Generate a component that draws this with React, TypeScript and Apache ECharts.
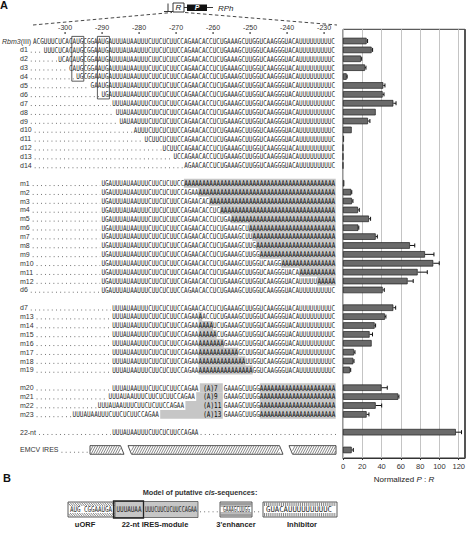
import { useEffect, useRef } from "react";
import * as echarts from "echarts";

// rows of panel A, top to bottom ("_" = spacer row)
const rowLabels = [
  "Rbm3(III)", "d1", "d2", "d3", "d4", "d5", "d6", "d7", "d8", "d9", "d10", "d11", "d12", "d13", "d14",
  "_1",
  "m1", "m2", "m3", "m4", "m5", "m6", "m7", "m8", "m9", "m10", "m11", "m12", "d6",
  "_2",
  "d7", "m13", "m14", "m15", "m16", "m17", "m18", "m19",
  "_3",
  "m20", "m21", "m22", "m23",
  "_4",
  "22-nt",
  "_5",
  "EMCV IRES",
];

// normalized P : R
const ratio = [
  24.5, 29.7, 18.7, 22.8, 3.8, 41.8, 41.1, 52.2, 33.9, 25.9, 9.0, 1.0, 0, 0, 0,
  null,
  1.4, 8.6, 9.3, 15.5, 26.9, 15.9, 33.9, 69.4, 85.0, 93.6, 77.4, 67.0, 41.1,
  null,
  52.2, 43.5, 32.8, 27.6, 29.7, 11.4, 10.7, 7.3,
  null,
  40.0, 57.3, 33.9, 24.5,
  null,
  117.0,
  null,
  9.0,
];
const ratioErr = [
  1.0, 1.0, 0.7, 1.0, 0.5, 1.7, 1.4, 2.8, 0, 2.0, 0, 0, 0, 0, 0,
  null,
  0, 0.5, 1.0, 1.4, 1.7, 0.5, 1.7, 5.0, 9.3, 6.2, 10.0, 5.8, 1.7,
  null,
  2.4, 1.0, 1.0, 3.0, 0, 1.0, 0.7, 0.7,
  null,
  5.9, 0.7, 6.2, 2.4,
  null,
  5.9,
  null,
  1.7,
];
const xTicks = [0, 20, 40, 60, 80, 100, 120];

// sequence alignment
const wt = "ACGUUUCUCACAUGCGGAAUGAUUUAUAAUUUCUUCUCUUCCAGAACACCUCUGAAAGCUUGGUCAAGGGUACAUUUUUUUUUC";
const dRows = ["Rbm3(III)", "d1", "d2", "d3", "d4", "d5", "d6", "d7", "d8", "d9", "d10", "d11", "d12", "d13", "d14"];
const dStart = [0, 3, 7, 10, 12, 16, 19, 22, 23, 24, 28, 31, 36, 39, 42];
const mRows = ["m1", "m2", "m3", "m4", "m5", "m6", "m7", "m8", "m9", "m10", "m11", "m12"];
const mFrom = [42, 46, 49, 52, 55, 60, 61, 62, 63, 69, 74, 79];
const bRows = ["m13", "m14", "m15", "m16", "m17", "m18", "m19"];
const bTo = [46, 49, 50, 52, 56, 58, 60];
const tRows = ["m20", "m21", "m22", "m23"];
const tLen = [7, 9, 11, 13];
const tLead = [22, 21, 18, 11];
const ruler = [-300, -290, -280, -270, -260, -250, -240, -230];

const MONO = "DejaVu Sans Mono";
const SANS = "Liberation Sans";
const FS = 8;
const ADV = FS * 0.602;
const X0 = 33;
const CW = 3.6;
const INK = "#1c1c1c";
const LABEL = "#333";
const SHADE = "#c6c6c6";
const X_MAX = 126.5;
const colX = (c: number) => X0 + c * CW;

const txt = (x: number, y: number, text: string, o: any = {}) => ({
  type: "text", x, y, silent: true, scaleX: o.scaleX ?? 1,
  style: {
    text, fontFamily: o.font ?? SANS, fontSize: o.size ?? 7, fill: o.fill ?? LABEL,
    fontWeight: o.weight ?? "normal", fontStyle: o.style ?? "normal",
    align: o.align ?? "left", verticalAlign: "middle", rich: o.rich,
  },
});
const seq = (c: number, y: number, text: string, fill = INK) =>
  txt(colX(c), y, text, { font: MONO, size: FS, fill, scaleX: CW / ADV });
const fit = (x: number, y: number, text: string, w: number) =>
  txt(x, y, text, { font: MONO, size: FS, fill: INK, scaleX: w / (text.length * ADV) });
const ln = (x1: number, y1: number, x2: number, y2: number, stroke = "#333", lineWidth = 0.8, lineDash?: number[]) => ({
  type: "line", silent: true, shape: { x1, y1, x2, y2 }, style: { stroke, lineWidth, lineDash },
});
const box = (x: number, y: number, width: number, height: number, fill: string, stroke?: string, lineWidth = 0.8) => ({
  type: "rect", silent: true, shape: { x, y, width, height },
  style: { fill, stroke: stroke ?? null, lineWidth },
});
const dots = (x1: number, x2: number, y: number) => ln(x1, y, x2, y, "#555", 0.9, [0.9, 3.3]);

function hatch(L: number, R: number, yt: number, yb: number, dx: number, step: number, dir: number) {
  const out: any[] = [];
  for (let xs = L - dx; xs <= R; xs += step) {
    const t0 = Math.max(0, (L - xs) / dx);
    const t1 = Math.min(1, (R - xs) / dx);
    if (t1 <= t0) continue;
    const yAt = (t: number) => (dir > 0 ? yb - t * (yb - yt) : yt + t * (yb - yt));
    out.push(ln(xs + t0 * dx, yAt(t0), xs + t1 * dx, yAt(t1), "#333", 0.6));
  }
  return out;
}

const charW: Record<string, number> = { m: 5.8, M: 5.8, t: 1.95, I: 1.95, " ": 1.95, "-": 2.33, E: 4.67, V: 4.67, S: 4.67, C: 5.05, R: 5.05 };
const labelW = (s: string) => s.split("").reduce((a, ch) => a + (charW[ch] ?? 3.9), 0);

function buildGraphic(yOf: (i: number) => number) {
  const back: any[] = [];
  const front: any[] = [];
  const H = yOf(1) - yOf(0);

  rowLabels.forEach((name, i) => {
    if (name.startsWith("_")) return;
    const y = yOf(i);
    const dy = y + 2.3;
    if (name === "Rbm3(III)") {
      front.push(txt(2, y, "{i|Rbm3}(III)", { rich: { i: { fontStyle: "italic", fontSize: 7, fontFamily: SANS, fill: LABEL } } }));
    } else {
      front.push(txt(20, y, name));
    }
    const from = 20 + labelW(name) + 3;

    if (dRows.includes(name)) {
      const s = dStart[dRows.indexOf(name)];
      if (s > 0) front.push(dots(from, colX(s) - 1.2, dy));
      front.push(seq(s, y, wt.slice(s)));
    } else if (mRows.includes(name)) {
      const a = mFrom[mRows.indexOf(name)];
      front.push(dots(from, colX(19) - 1.2, dy));
      back.push(box(colX(a) - 0.3, y - H / 2, colX(84) - colX(a) + 0.6, H, SHADE));
      front.push(seq(19, y, wt.slice(19, a)));
      front.push(seq(a, y, "A".repeat(84 - a), "#000"));
    } else if (bRows.includes(name)) {
      const e = bTo[bRows.indexOf(name)];
      front.push(dots(from, colX(22) - 1.2, dy));
      back.push(box(colX(46), y - H / 2, colX(e + 1) - colX(46), H, SHADE));
      front.push(seq(22, y, wt.slice(22, 46)));
      front.push(seq(46, y, "A".repeat(e - 45), "#000"));
      front.push(seq(e + 1, y, wt.slice(e + 1)));
    } else if (tRows.includes(name)) {
      const k = tRows.indexOf(name);
      const lead = tLead[k];
      front.push(dots(from, colX(lead) - 1.2, dy));
      front.push(seq(lead, y, wt.slice(22, 46)));
      back.push(box(colX(lead + 24) + 1.2, y - H / 2, colX(53) - 1 - (colX(lead + 24) + 1.2), H, SHADE));
      front.push(seq(47.3, y, `(A)${tLen[k]}`, "#000"));
      front.push(seq(53, y, wt.slice(53, 63)));
      back.push(box(colX(63), y - H / 2, colX(84) - colX(63) + 0.3, H, SHADE));
      front.push(seq(63, y, "A".repeat(21), "#000"));
    } else if (name === "22-nt") {
      front.push(dots(from, colX(22) - 1.2, dy));
      front.push(seq(22, y, wt.slice(22, 46)));
      front.push(dots(colX(46) + 2, 336, dy));
    } else if (name === "EMCV IRES") {
      front.push(dots(from, 88, dy));
      const segs = [[90, 124], [128, 283], [289, 336]];
      const yt = y - 4.3;
      const yb = y + 4.3;
      const sl = 3.5;
      segs.forEach(([x1, x2], j) => {
        const first = j === 0;
        const last = j === segs.length - 1;
        front.push({
          type: "polygon", silent: true,
          shape: { points: [[x1, yt], [last ? x2 : x2 - sl, yt], [x2, yb], [first ? x1 : x1 + sl, yb]] },
          style: { fill: "#fff", stroke: "#222", lineWidth: 0.8 },
        });
        front.push(...hatch(first ? x1 + 0.5 : x1 + sl, last ? x2 - 0.5 : x2 - sl, yt + 0.5, yb - 0.5, 4, 2.4, 1));
      });
    }
  });

  // AUG boxes
  front.push(box(colX(11) - 0.8, yOf(0) - 4.6, 3 * CW + 1.2, yOf(4) - yOf(0) + 9.2, "transparent", "#333", 0.8));
  front.push(box(colX(18) - 0.4, yOf(0) - 4.6, 3 * CW + 1.2, yOf(6) - yOf(0) + 9.2, "transparent", "#333", 0.8));

  // ruler
  ruler.forEach((p, k) => {
    const x = 65.1 + 37 * k;
    front.push(txt(x, 27.5, String(p), { align: "center", size: 7 }));
    front.push(box(x - 0.7, 32.3, 1.4, 1.4, "#222"));
  });

  // header construct
  const header = [
    txt(0, 5, "A", { size: 11, weight: "bold", fill: "#111" }),
    ln(164, 11.5, 173, 11.5, "#222", 0.9),
    ln(168, 3.5, 168, 11.5, "#222", 0.9),
    box(173, 3, 11, 9, "#fff", "#222", 0.9),
    txt(178.5, 7.7, "R", { align: "center", size: 8, style: "italic", fill: "#111" }),
    ln(184, 7.5, 187, 7.5, "#222", 0.9),
    box(187, 4.5, 20, 6.5, "#111"),
    txt(197, 7.7, "P", { align: "center", size: 7, style: "italic", fill: "#fff", weight: "bold" }),
    ln(207, 7.5, 213, 7.5, "#222", 0.9),
    txt(218, 8, "RPh", { size: 8, style: "italic", fill: "#222" }),
    ln(33, 25, 172, 12.5, "#333", 0.9, [3.5, 2.5]),
    ln(185, 12.5, 337, 25, "#333", 0.9, [3.5, 2.5]),
    ln(465, 29.3, 465, 458, "#555", 2),
  ];

  // panel B
  const pb: any[] = [
    txt(3, 478, "B", { size: 11, weight: "bold", fill: "#111" }),
    txt(200, 492, "Model of putative {i|cis}-sequences:", {
      align: "center", size: 7.3, weight: "bold", fill: "#333",
      rich: { i: { fontStyle: "italic", fontWeight: "bold", fontSize: 7.3, fontFamily: SANS, fill: "#333" } },
    }),
    box(68, 502, 47, 15, "#fff", "#333", 0.8),
    ...hatch(68.5, 114.5, 502.6, 506, 3, 2.3, -1),
    ...hatch(68.5, 114.5, 513, 516.4, 3, 2.3, -1),
    fit(70, 509.5, "AUG CGGAAUGA", 42),
    box(115, 501.5, 83, 16, SHADE, "#555", 0.8),
    fit(116.5, 509.5, "UUUAUAA", 25),
    fit(145, 509.5, "UUUCUUCUCUUCCAGAA", 52),
    box(113.5, 501, 30, 17, "transparent", "#222", 1.3),
    dots(200, 218, 511.8),
    box(220, 502, 32, 15, "#fff", "#333", 0.8),
    ...[503.3, 504.7, 506.1, 512.9, 514.3, 515.7].map((yy) => ln(220.5, yy, 251.5, yy, "#333", 0.6)),
    fit(223, 509.5, "GAAAGCUUGG", 27),
    dots(254, 262, 511.8),
    box(263, 502, 74, 15, "#fff", "#333", 0.8),
  ];
  for (let x = 264.5; x < 336.5; x += 1.9) {
    pb.push(ln(x, 502.6, x, 506, "#333", 0.6));
    pb.push(ln(x, 513, x, 516.4, "#333", 0.6));
  }
  pb.push(fit(266, 509.5, "GUACAUUUUUUUUUC", 66));
  const bLabels: [number, string][] = [[85, "uORF"], [155, "22-nt IRES-module"], [236, "3'enhancer"], [302, "Inhibitor"]];
  bLabels.forEach(([x, t]) => pb.push(txt(x, 524.5, t, { align: "center", size: 7.5, weight: "bold", fill: "#222" })));

  return [...back, ...front, ...header, ...pb];
}

function baseOption() {
  const errData = rowLabels
    .map((_, i) => (ratioErr[i] ? [ratio[i] as number, i, ratioErr[i] as number] : null))
    .filter(Boolean);
  return {
    animation: false,
    backgroundColor: "#fff",
    grid: [
      { left: 343, right: 9, top: 29.3, bottom: 77, show: true, borderColor: "#333", borderWidth: 1, backgroundColor: "transparent" },
      { left: 343, right: 9, top: 36.56, bottom: 80.6 },
    ],
    xAxis: [
      {
        gridIndex: 0, type: "value", min: 0, max: X_MAX, interval: 20,
        axisLine: { show: true, lineStyle: { color: "#333" } },
        axisTick: { show: true, length: 2, lineStyle: { color: "#333" } },
        axisLabel: {
          fontSize: 7.5, color: "#333", margin: 4, fontFamily: SANS, showMaxLabel: false,
          formatter: (v: number) => (xTicks.includes(v) ? String(v) : ""),
        },
        splitLine: { show: true, showMaxLine: false, lineStyle: { color: "#c4c4c4", width: 1 } },
        name: "Normalized {it|P} : {it|R}",
        nameLocation: "middle",
        nameGap: 17,
        nameTextStyle: {
          fontSize: 8, color: "#222", fontFamily: SANS,
          rich: { it: { fontStyle: "italic", fontSize: 8, color: "#222", fontFamily: SANS } },
        },
      },
      { gridIndex: 1, type: "value", min: 0, max: X_MAX, show: false },
    ],
    yAxis: [
      { gridIndex: 0, type: "value", min: 0, max: 1, show: false },
      { gridIndex: 1, type: "category", data: rowLabels.map((l, i) => `${l}#${i}`), inverse: true, show: false },
    ],
    series: [
      {
        type: "bar", xAxisIndex: 1, yAxisIndex: 1, data: ratio, barWidth: 6.5, silent: true,
        itemStyle: { color: "#6a6a6a", borderColor: "#1e1e1e", borderWidth: 0.7 },
      },
      {
        type: "custom", xAxisIndex: 1, yAxisIndex: 1, data: errData, silent: true, z: 3,
        encode: { x: 0, y: 1 },
        renderItem: (_p: any, api: any) => {
          const a = api.coord([api.value(0), api.value(1)]);
          const b = api.coord([api.value(0) + api.value(2), api.value(1)]);
          return {
            type: "group",
            children: [
              { type: "line", shape: { x1: a[0], y1: a[1], x2: b[0], y2: b[1] }, style: { stroke: "#111", lineWidth: 1 } },
              { type: "line", shape: { x1: b[0], y1: b[1] - 2, x2: b[0], y2: b[1] + 2 }, style: { stroke: "#111", lineWidth: 1 } },
            ],
          };
        },
      },
    ],
  };
}

export default function App() {
  const ref = useRef<HTMLDivElement>(null);
  useEffect(() => {
    if (!ref.current) return;
    const chart = echarts.init(ref.current, null, { renderer: "svg" });
    chart.setOption(baseOption() as any);
    const yOf = (i: number) => chart.convertToPixel({ yAxisIndex: 1 } as any, i) as unknown as number;
    chart.setOption({ graphic: { elements: buildGraphic(yOf) } } as any);
    return () => chart.dispose();
  }, []);
  return (
    <div
      ref={ref}
      style={{ position: "absolute", left: 0, top: 0, width: 474, height: 535, background: "#fff" }}
    />
  );
}
